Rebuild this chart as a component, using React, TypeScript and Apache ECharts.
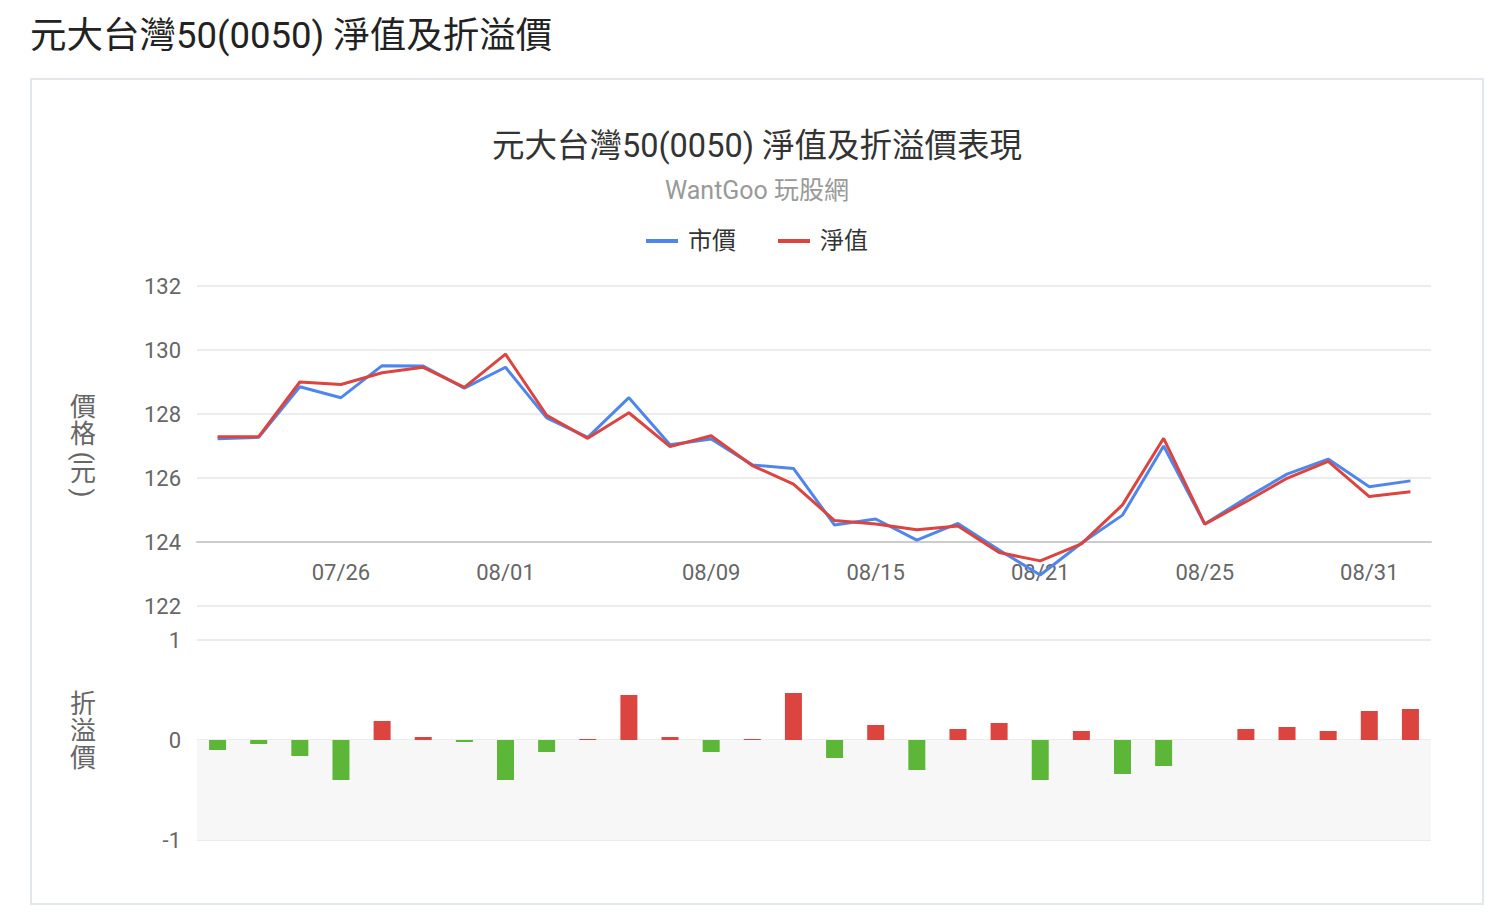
import React, { useEffect, useRef } from 'react';
import * as echarts from 'echarts';

const dates = [
  '07/21', '07/24', '07/25', '07/26', '07/27', '07/28', '07/31', '08/01', '08/02', '08/04',
  '08/07', '08/08', '08/09', '08/10', '08/11', '08/14', '08/15', '08/16', '08/17', '08/18',
  '08/21', '08/22', '08/23', '08/24', '08/25', '08/28', '08/29', '08/30', '08/31', '09/01',
];
const marketPrice = [
  127.23, 127.27, 128.85, 128.51, 129.51, 129.5, 128.81, 129.46, 127.88, 127.27,
  128.51, 127.04, 127.22, 126.41, 126.3, 124.53, 124.72, 124.06, 124.58, 123.75,
  122.97, 123.96, 124.84, 127.0, 124.56, 125.37, 126.12, 126.59, 125.73, 125.91,
];
const netValue = [
  127.29, 127.29, 129.0, 128.92, 129.29, 129.46, 128.83, 129.87, 127.96, 127.24,
  128.04, 126.98, 127.32, 126.39, 125.81, 124.67, 124.56, 124.38, 124.5, 123.67,
  123.41, 123.94, 125.16, 127.24, 124.56, 125.26, 125.99, 126.52, 125.42, 125.57,
];
const premium = [
  -0.1, -0.04, -0.16, -0.4, 0.19, 0.03, -0.02, -0.4, -0.12, 0.01,
  0.45, 0.03, -0.12, 0.01, 0.47, -0.18, 0.15, -0.3, 0.11, 0.17,
  -0.4, 0.09, -0.34, -0.26, 0, 0.11, 0.13, 0.09, 0.29, 0.31,
];
const shownDates = ['07/26', '08/01', '08/09', '08/15', '08/21', '08/25', '08/31'];

const FONT = "Roboto, 'Noto Sans CJK TC', sans-serif";
const BLUE = '#4f86ec';
const RED = '#dc4440';
const GREEN = '#5cb738';

const showLabel = (i: number) => shownDates.includes(dates[i]);

// one character of a vertical axis name
const nameChar = (text: string, y: number, rotation = 0) => ({
  type: 'text' as const,
  x: 83,
  y,
  rotation,
  style: {
    text,
    font: `26px ${FONT}`,
    fill: '#666',
    align: 'center' as const,
    verticalAlign: 'middle' as const,
  },
});

const App = () => {
  const chartRef = useRef<HTMLDivElement>(null);

  useEffect(() => {
    if (!chartRef.current) return;
    const chart = echarts.init(chartRef.current, undefined, { renderer: 'svg' });

    const option: echarts.EChartsOption = {
      animation: false,
      textStyle: { fontFamily: FONT },
      title: [
        {
          text: '元大台灣50(0050) 淨值及折溢價表現',
          left: 'center',
          top: 125,
          textStyle: { fontSize: 32.5, fontWeight: 'normal', color: '#333', fontFamily: FONT },
        },
        {
          text: 'WantGoo 玩股網',
          left: 'center',
          top: 173,
          textStyle: { fontSize: 25, fontWeight: 'normal', color: '#999', fontFamily: FONT },
        },
      ],
      legend: {
        data: ['市價', '淨值'],
        top: 224,
        left: 'center',
        icon: 'rect',
        itemWidth: 32,
        itemHeight: 4,
        itemGap: 42,
        textStyle: { fontSize: 24, color: '#333', fontFamily: FONT, padding: [0, 0, 0, 5] },
      },
      graphic: [
        nameChar('價', 407),
        nameChar('格', 434),
        nameChar('(', 456, -Math.PI / 2),
        nameChar('元', 472),
        nameChar(')', 493, -Math.PI / 2),
        {
          type: 'text',
          left: 70,
          top: 690,
          style: {
            text: '折\n溢\n價',
            font: `26px ${FONT}`,
            fill: '#666',
            lineHeight: 27,
            align: 'center',
          },
        },
      ],
      grid: [
        { left: 197, right: 83, top: 286, height: 320 },
        { left: 197, right: 83, top: 640, height: 200 },
      ],
      xAxis: [
        {
          type: 'category',
          gridIndex: 0,
          data: dates,
          boundaryGap: true,
          offset: -64,
          axisLine: { lineStyle: { color: '#cccccc', width: 2 } },
          axisTick: {
            alignWithLabel: true,
            interval: (i: number) => showLabel(i),
            length: 9,
            lineStyle: { color: '#cccccc', width: 2 },
          },
          axisLabel: {
            interval: (i: number) => showLabel(i),
            fontSize: 22,
            color: '#666',
            margin: 19,
          },
        },
        {
          type: 'category',
          gridIndex: 1,
          data: dates,
          boundaryGap: true,
          show: false,
        },
      ],
      yAxis: [
        {
          type: 'value',
          gridIndex: 0,
          min: 122,
          max: 132,
          interval: 2,
          axisLabel: { fontSize: 22, color: '#666', margin: 16 },
          splitLine: { lineStyle: { color: '#ececec', width: 2 } },
        },
        {
          type: 'value',
          gridIndex: 1,
          min: -1,
          max: 1,
          interval: 1,
          axisLabel: { fontSize: 22, color: '#666', margin: 16 },
          splitLine: { lineStyle: { color: '#ececec', width: 2 } },
        },
      ],
      series: [
        {
          name: '市價',
          type: 'line',
          xAxisIndex: 0,
          yAxisIndex: 0,
          data: marketPrice,
          symbol: 'none',
          itemStyle: { color: BLUE },
          lineStyle: { color: BLUE, width: 3 },
        },
        {
          name: '淨值',
          type: 'line',
          xAxisIndex: 0,
          yAxisIndex: 0,
          data: netValue,
          symbol: 'none',
          itemStyle: { color: RED },
          lineStyle: { color: RED, width: 3 },
        },
        {
          name: 'band',
          type: 'line',
          xAxisIndex: 1,
          yAxisIndex: 1,
          data: [],
          z: 1,
          silent: true,
          markArea: {
            silent: true,
            itemStyle: { color: '#f7f7f7' },
            data: [[{ yAxis: 0 }, { yAxis: -1 }]],
          },
        },
        {
          name: '折溢價',
          type: 'bar',
          xAxisIndex: 1,
          yAxisIndex: 1,
          data: premium,
          barWidth: 17,
          z: 3,
          itemStyle: {
            color: (p: any) => (p.value >= 0 ? RED : GREEN),
          },
        },
      ],
    };
    chart.setOption(option);

    return () => {
      chart.dispose();
    };
  }, []);

  return (
    <div
      style={{
        position: 'absolute',
        left: 0,
        top: 0,
        width: 1504,
        height: 920,
        background: '#fff',
        overflow: 'hidden',
      }}
    >
      <div
        style={{
          position: 'absolute',
          left: 30,
          top: 15,
          fontSize: 36.5,
          lineHeight: '42px',
          color: '#222',
          fontFamily: FONT,
          whiteSpace: 'nowrap',
        }}
      >
        元大台灣50(0050) 淨值及折溢價
      </div>
      <div
        style={{
          position: 'absolute',
          left: 30,
          top: 78,
          width: 1454,
          height: 827,
          border: '2px solid #e3e6ea',
          boxSizing: 'border-box',
        }}
      />
      <div ref={chartRef} style={{ position: 'absolute', left: 0, top: 0, width: 1514, height: 920 }} />
    </div>
  );
};

export default App;
